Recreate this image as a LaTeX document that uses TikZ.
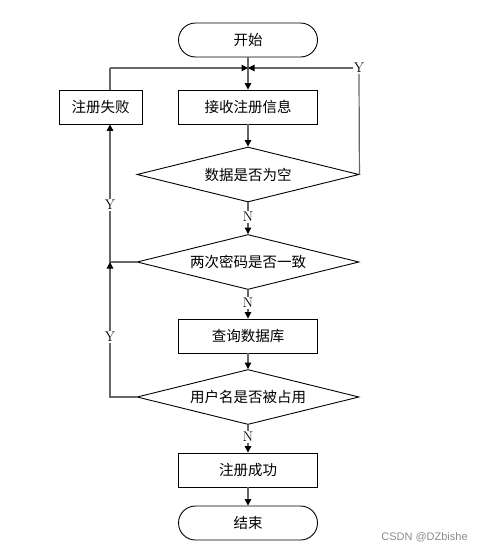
\documentclass[tikz,border=0pt]{standalone}
\usepackage{fontspec}
\newfontfamily\cjk{Noto Sans CJK SC}
\newfontfamily\wm{Liberation Sans}
\usetikzlibrary{shapes.geometric,shapes.misc,arrows.meta}
\tikzset{
  cjkfont/.style={font=\cjk\fontsize{14.5}{16}\selectfont},
  proc/.style={draw=black, line width=0.9pt, rectangle, minimum width=139pt, minimum height=34pt, inner sep=0pt, cjkfont},
  term/.style={draw=black, line width=0.9pt, rounded rectangle, minimum width=139pt, minimum height=34pt, inner sep=0pt, cjkfont},
  dec/.style={draw=black, line width=0.9pt, diamond, aspect=4, minimum width=222pt, minimum height=55pt, inner sep=0pt, cjkfont},
  conn/.style={draw=black!60, line width=1.2pt},
  arr/.style={conn, -{Triangle[length=6.5pt,width=6.5pt,fill=black,color=black]}},
  lbl/.style={fill=white, inner sep=1pt, font=\fontsize{14}{16}\selectfont}
}
\begin{document}
\begin{tikzpicture}[x=1pt,y=-1pt]
\useasboundingbox (0,0) rectangle (487,552);
\node[term] (start) at (248,40) {开始};
\coordinate (J) at (248,68);
\node[proc] (recv) at (248,107) {接收注册信息};
\node[proc, minimum width=83pt] (fail) at (100.5,107) {注册失败};
\node[dec] (d1) at (248,174.5) {数据是否为空};
\node[dec] (d2) at (248,262) {两次密码是否一致};
\node[proc] (query) at (248,336) {查询数据库};
\node[dec] (d3) at (248,397) {用户名是否被占用};
\node[proc] (ok) at (248,470) {注册成功};
\node[term] (end) at (248,523) {结束};
\coordinate (lx) at (110,0);
\node[lbl] (yR) at (359,68) {Y};
\node[lbl] (n1) at (248,217) {N};
\node[lbl] (n2) at (248,303) {N};
\node[lbl] (n3) at (248,437) {N};
\node[lbl] (y1) at (110,205) {Y};
\node[lbl] (y2) at (110,337) {Y};
\coordinate (c2) at (d2.west -| lx);
\coordinate (c3) at (d3.west -| lx);
\coordinate (ftop) at (fail.north -| lx);
\coordinate (fbot) at (fail.south -| lx);
\coordinate (cj) at (J -| lx);

\draw[conn] (start.south) -- (J);
\draw[arr] (J) -- (recv.north);
\draw[arr] (recv.south) -- (d1.north);
\draw[conn] (d1.east) -- (yR.south);
\draw[arr] (yR.west) -- (J);
\draw[conn] (d1.south) -- (n1.north);
\draw[arr] (n1.south) -- (d2.north);
\draw[conn] (d2.west) -- (c2) -- (y1.south);
\draw[arr] (y1.north) -- (fbot);
\draw[conn] (d2.south) -- (n2.north);
\draw[arr] (n2.south) -- (query.north);
\draw[arr] (query.south) -- (d3.north);
\draw[conn] (d3.west) -- (c3) -- (y2.south);
\draw[arr] (y2.north) -- (c2);
\draw[conn] (d3.south) -- (n3.north);
\draw[arr] (n3.south) -- (ok.north);
\draw[arr] (ok.south) -- (end.north);
\draw[conn] (ftop) -- (cj);
\draw[arr] (cj) -- (J);
\node[text=black!45, font=\wm\fontsize{11}{13}\selectfont] (wm) at (424.5,537) {CSDN @DZbishe};
\end{tikzpicture}
\end{document}
